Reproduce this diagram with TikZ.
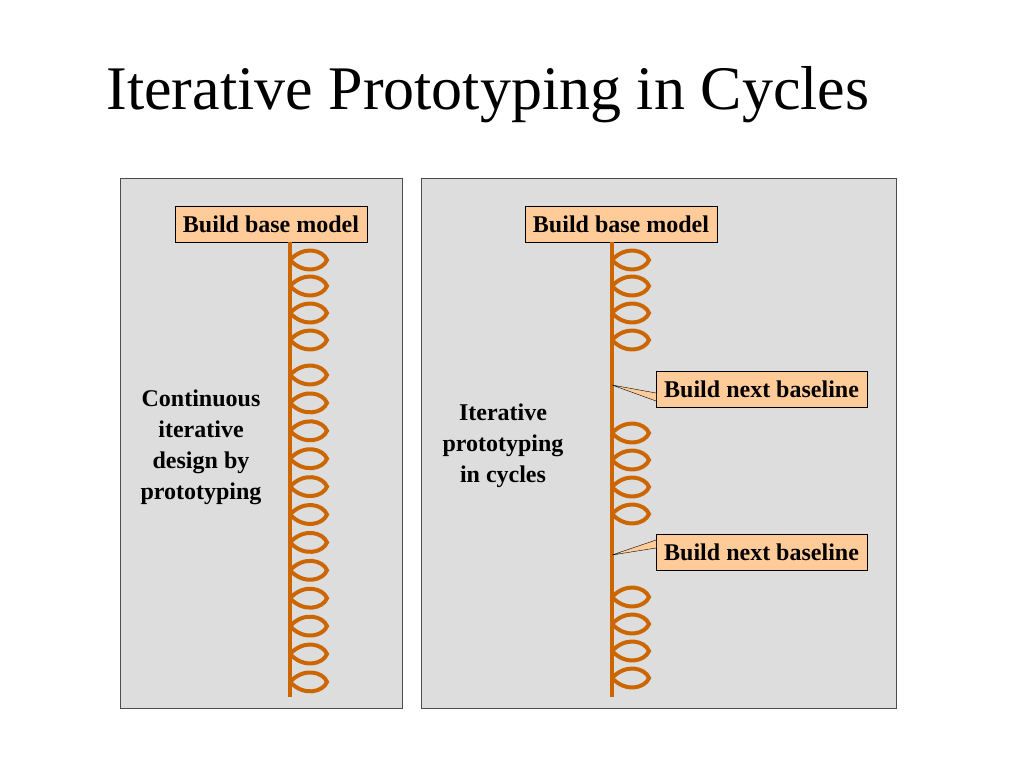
\documentclass[tikz,border=0pt]{standalone}
\usepackage{fontspec}
\setmainfont{Liberation Serif}
\definecolor{spring}{HTML}{CC6600}
\definecolor{boxfill}{HTML}{FFCC99}
\definecolor{panel}{HTML}{DDDDDD}
\tikzset{
  stage/.style={draw=black, fill=boxfill, font=\fontsize{24}{24}\selectfont\bfseries, minimum height=36pt, inner xsep=8pt},
  note/.style={align=center, font=\fontsize{24}{31}\selectfont\bfseries},
  coil/.style={draw=spring, line width=4pt}
}
\newcommand{\leaf}[2]{\draw[coil] (#1,#2) .. controls (#1+14,#2-15) and (#1+33,#2-10) .. (#1+37,#2) .. controls (#1+33,#2+10) and (#1+14,#2+15) .. (#1,#2);}
\begin{document}
\begin{tikzpicture}[x=1pt,y=-1pt]
\useasboundingbox (0,0) rectangle (1024,768);
%title
\node[font=\fontsize{62}{62}\selectfont, anchor=west] (title) at (103,95) {Iterative Prototyping in Cycles};
%panels
\draw[fill=panel, draw=black!70] (120,178) rectangle (402,708);
\draw[fill=panel, draw=black!70] (421,178) rectangle (896,708);
%left panel
\node[stage] (baseL) at (271,224) {Build base model};
\coordinate (endL) at (290,697);
\draw[coil] (baseL.south -| endL) -- (endL);
\foreach \y in {260,286,313,340} {\leaf{290}{\y}}
\foreach \i in {0,...,11} {\leaf{290}{375+27.9*\i}}
\node[note] (textL) at (201,447) {Continuous\\iterative\\design by\\prototyping};
%right panel
\node[stage] (baseR) at (621,224) {Build base model};
\coordinate (endR) at (612,697);
\draw[coil] (baseR.south -| endR) -- (endR);
\foreach \y in {260,286,313,340, 433,460,487,514, 597,624,651,678} {\leaf{612}{\y}}
\node[note] (textR) at (503,446) {Iterative\\prototyping\\in cycles};
%callouts
\node[stage, anchor=west] (nextA) at (656,389) {Build next baseline};
\node[stage, anchor=west] (nextB) at (656,552) {Build next baseline};
\coordinate (tipA) at (612,385);
\coordinate (tipB) at (612,555);
\draw[fill=boxfill] ([yshift=-4pt]nextA.west) -- (tipA) -- ([yshift=-12pt]nextA.west);
\draw[fill=boxfill] ([yshift=4pt]nextB.west) -- (tipB) -- ([yshift=12pt]nextB.west);
\end{tikzpicture}
\end{document}
